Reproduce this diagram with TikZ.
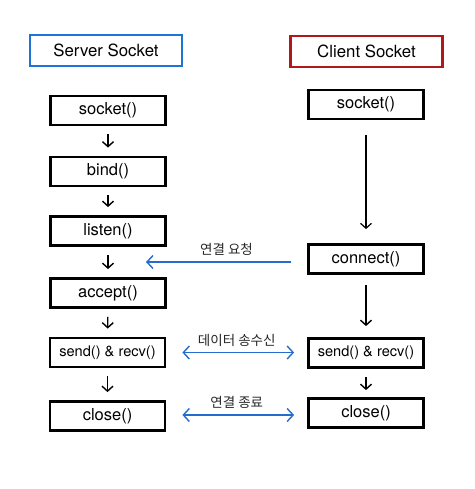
\documentclass[tikz,border=0pt]{standalone}
\usepackage{fontspec}
\setmainfont{TeX Gyre Heros}
\newfontfamily\kor{Noto Sans CJK KR}
\usetikzlibrary{arrows.meta}

\definecolor{sockblue}{RGB}{30,115,215}
\definecolor{sockred}{RGB}{175,25,30}
\definecolor{msgblue}{RGB}{35,110,205}

\begin{document}
\begin{tikzpicture}[x=1pt,y=-1pt,
  title/.style={draw, line width=2.4pt, minimum width=152pt, minimum height=31pt, font=\fontsize{16.8}{18}\selectfont},
  call/.style={draw, line width=2.8pt, minimum width=115pt, minimum height=29pt, font=\fontsize{16.5}{18}\selectfont},
  small/.style={font=\fontsize{14.6}{16}\selectfont},
  flow/.style={line width=1.4pt, -{Straight Barb[length=5pt,width=11pt]}},
  msg/.style={msgblue, line width=1.4pt, {Straight Barb[length=6pt,width=13pt]}-{Straight Barb[length=6pt,width=13pt]}},
  note/.style={text=black!85, font=\kor\fontsize{13.5}{15}\selectfont}]
\useasboundingbox (0,0) rectangle (474,489);
% titles
\node[title, draw=sockblue] (server) at (106,50.5) {Server Socket};
\node[title, draw=sockred] (client) at (366.5,51.5) {Client Socket};
% server side
\node[call] (ssocket) at (108,110.5) {socket()};
\node[call] (sbind) at (108,171.5) {bind()};
\node[call] (slisten) at (108,231) {listen()};
\node[call] (saccept) at (108,293) {accept()};
\node[call, small] (ssend) at (107.5,352.5) {send() \& recv()};
\node[call] (sclose) at (107.5,416) {close()};
\draw[flow, shorten <=8pt, shorten >=8pt] (ssocket) -- (sbind);
\draw[flow, shorten <=8pt, shorten >=8pt] (sbind) -- (slisten);
\draw[flow, shorten <=8pt, shorten >=8pt] (slisten) -- (saccept);
\draw[flow, shorten <=8pt, shorten >=8pt] (saccept) -- (ssend);
\draw[flow, shorten <=8pt, shorten >=8pt] (ssend) -- (sclose);
% client side
\node[call] (csocket) at (366,104.5) {socket()};
\node[call] (cconnect) at (366,259) {connect()};
\node[call, small] (csend) at (366,353) {send() \& recv()};
\node[call] (cclose) at (366,413) {close()};
\draw[flow, line width=1.2pt, shorten <=15pt, shorten >=14pt] (csocket) -- (cconnect);
\draw[flow, shorten <=10pt, shorten >=11pt] (cconnect) -- (csend);
\draw[flow, shorten <=8pt, shorten >=7pt] (csend) -- (cclose);
% messages
\coordinate (req) at (146,262);
\draw[msg, {}-{Straight Barb[length=6pt,width=13pt]}, shorten <=16pt] (cconnect.west |- req) -- node[note, above=2pt] {연결 요청} (req);
\draw[msg, shorten <=16pt, shorten >=13pt] (ssend.east) -- node[note, above=2pt] {데이터 송수신} (ssend.east -| csend.west);
\draw[msg, shorten <=16pt, shorten >=13pt] (sclose.east |- 0,415) -- node[note, above=2pt] {연결 종료} (sclose.east |- 0,415 -| cclose.west);
\end{tikzpicture}
\end{document}
